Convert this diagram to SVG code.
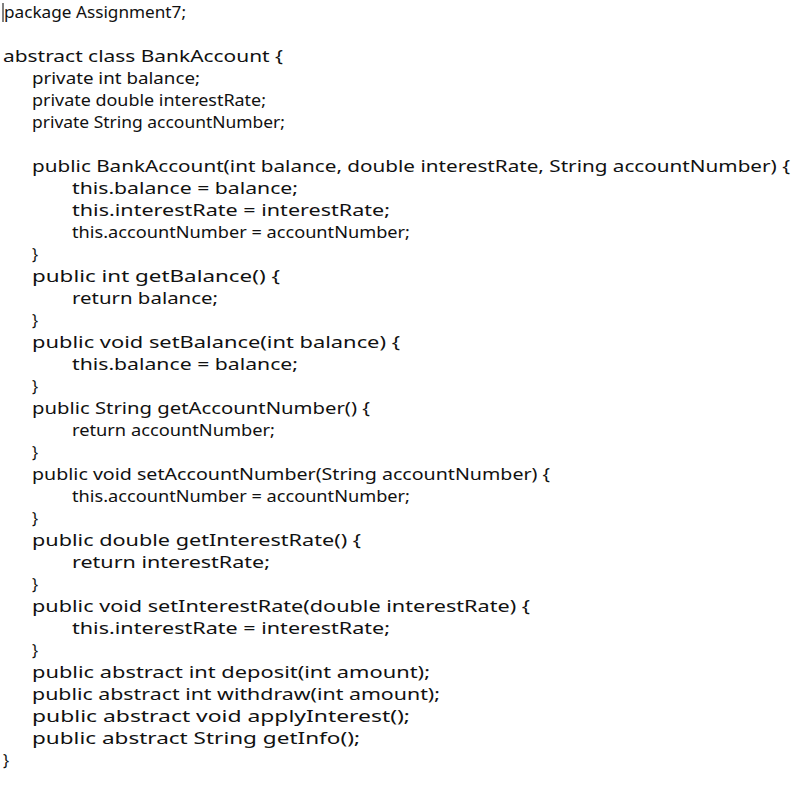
<svg xmlns="http://www.w3.org/2000/svg" width="792" height="787" viewBox="0 0 792 787">
<style>text{font-family:"Noto Sans","DejaVu Sans",sans-serif;font-size:16px;fill:#111;white-space:pre}</style>
<rect width="792" height="787" fill="#fff"/>
<line x1="3" y1="3" x2="3" y2="22" stroke="#000" stroke-width="1"/>
<g id="code">
<text x="4" y="18" textLength="182" lengthAdjust="spacingAndGlyphs">package Assignment7;</text>
<text x="3" y="62" textLength="280" lengthAdjust="spacingAndGlyphs">abstract class BankAccount {</text>
<text x="32" y="84" textLength="168" lengthAdjust="spacingAndGlyphs">private int balance;</text>
<text x="32" y="106" textLength="234" lengthAdjust="spacingAndGlyphs">private double interestRate;</text>
<text x="32" y="128" textLength="253" lengthAdjust="spacingAndGlyphs">private String accountNumber;</text>
<text x="32" y="172" textLength="758" lengthAdjust="spacingAndGlyphs">public BankAccount(int balance, double interestRate, String accountNumber) {</text>
<text x="72" y="194" textLength="226" lengthAdjust="spacingAndGlyphs">this.balance = balance;</text>
<text x="72" y="216" textLength="318" lengthAdjust="spacingAndGlyphs">this.interestRate = interestRate;</text>
<text x="72" y="238" textLength="338" lengthAdjust="spacingAndGlyphs">this.accountNumber = accountNumber;</text>
<text x="32" y="260">}</text>
<text x="32" y="282" textLength="248" lengthAdjust="spacingAndGlyphs">public int getBalance() {</text>
<text x="72" y="304" textLength="146" lengthAdjust="spacingAndGlyphs">return balance;</text>
<text x="32" y="326">}</text>
<text x="32" y="348" textLength="368" lengthAdjust="spacingAndGlyphs">public void setBalance(int balance) {</text>
<text x="72" y="370" textLength="226" lengthAdjust="spacingAndGlyphs">this.balance = balance;</text>
<text x="32" y="392">}</text>
<text x="32" y="414" textLength="338" lengthAdjust="spacingAndGlyphs">public String getAccountNumber() {</text>
<text x="72" y="436" textLength="203" lengthAdjust="spacingAndGlyphs">return accountNumber;</text>
<text x="32" y="458">}</text>
<text x="32" y="480" textLength="518" lengthAdjust="spacingAndGlyphs">public void setAccountNumber(String accountNumber) {</text>
<text x="72" y="502" textLength="338" lengthAdjust="spacingAndGlyphs">this.accountNumber = accountNumber;</text>
<text x="32" y="524">}</text>
<text x="32" y="546" textLength="329" lengthAdjust="spacingAndGlyphs">public double getInterestRate() {</text>
<text x="72" y="568" textLength="198" lengthAdjust="spacingAndGlyphs">return interestRate;</text>
<text x="32" y="590">}</text>
<text x="32" y="612" textLength="498" lengthAdjust="spacingAndGlyphs">public void setInterestRate(double interestRate) {</text>
<text x="72" y="634" textLength="318" lengthAdjust="spacingAndGlyphs">this.interestRate = interestRate;</text>
<text x="32" y="656">}</text>
<text x="32" y="678" textLength="398" lengthAdjust="spacingAndGlyphs">public abstract int deposit(int amount);</text>
<text x="32" y="700" textLength="408" lengthAdjust="spacingAndGlyphs">public abstract int withdraw(int amount);</text>
<text x="32" y="722" textLength="378" lengthAdjust="spacingAndGlyphs">public abstract void applyInterest();</text>
<text x="32" y="744" textLength="328" lengthAdjust="spacingAndGlyphs">public abstract String getInfo();</text>
<text x="3" y="766">}</text>
</g>
</svg>
